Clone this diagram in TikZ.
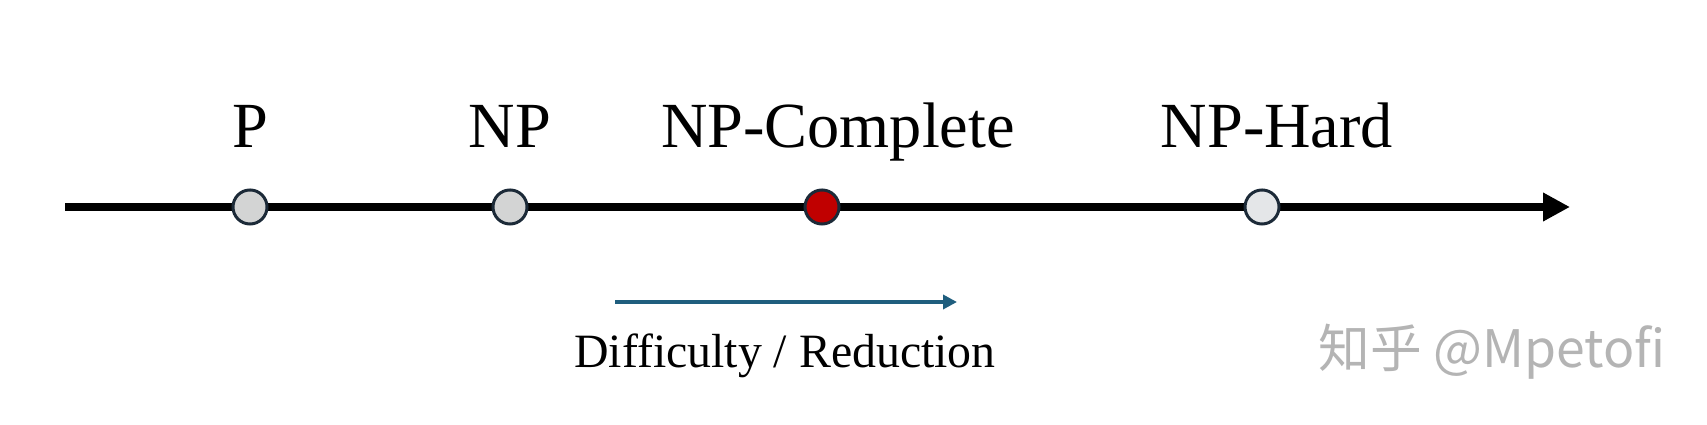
\documentclass[tikz,border=0pt]{standalone}
\usepackage{fontspec}
\setmainfont{Liberation Serif}
\newfontfamily\cjkfont{Noto Sans CJK SC}
\usetikzlibrary{arrows.meta}
\definecolor{ink}{gray}{0.0}
\definecolor{rim}{RGB}{28,42,56}
\definecolor{pale}{RGB}{211,212,212}
\definecolor{paler}{RGB}{228,230,232}
\definecolor{hot}{RGB}{192,0,0}
\definecolor{teal}{RGB}{31,94,126}
\definecolor{mark}{RGB}{180,180,180}

\begin{document}
\begin{tikzpicture}[x=0.01cm, y=-0.01cm,
  dot/.style={circle, draw=rim, line width=0.03cm, inner sep=0pt, minimum size=0.34cm},
  classlabel/.style={anchor=base, font=\fontsize{18.3}{21}\selectfont, text=ink},
]
\useasboundingbox (0,0) rectangle (1707,425);
\def\ya{207}

% the axis
\coordinate (start) at (65,\ya);
\coordinate (end) at (1570,\ya);
\draw[draw=ink, line width=0.085cm, -{Triangle[length=0.27cm, width=0.27cm]}] (start) -- (end);

% classes along the axis
\node[dot, fill=pale] (p) at (250,\ya) {};
\node[dot, fill=pale] (np) at (510,\ya) {};
\node[dot, fill=hot] (npc) at (822,\ya) {};
\node[dot, fill=paler] (nph) at (1262,\ya) {};

\node[classlabel] (plabel) at (250,148) {P};
\node[classlabel] (nplabel) at (510,148) {NP};
\node[classlabel] (npclabel) at (838,148) {NP-Complete};
\node[classlabel] (nphlabel) at (1277,148) {NP-Hard};

% direction of hardness
\coordinate (rstart) at (615,302);
\coordinate (rend) at (957,302);
\draw[draw=teal, line width=0.04cm, -{Triangle[length=0.14cm, width=0.14cm]}] (rstart) -- (rend);
\node[anchor=base, font=\fontsize{13.6}{16}\selectfont, text=ink] (reduce) at (785,368)
  {Difficulty / Reduction};

\node[anchor=base west, font=\cjkfont\fontsize{14.7}{17}\selectfont, text=mark] (wm) at (1306,368)
  {知乎 @Mpetofi};
\end{tikzpicture}
\end{document}
